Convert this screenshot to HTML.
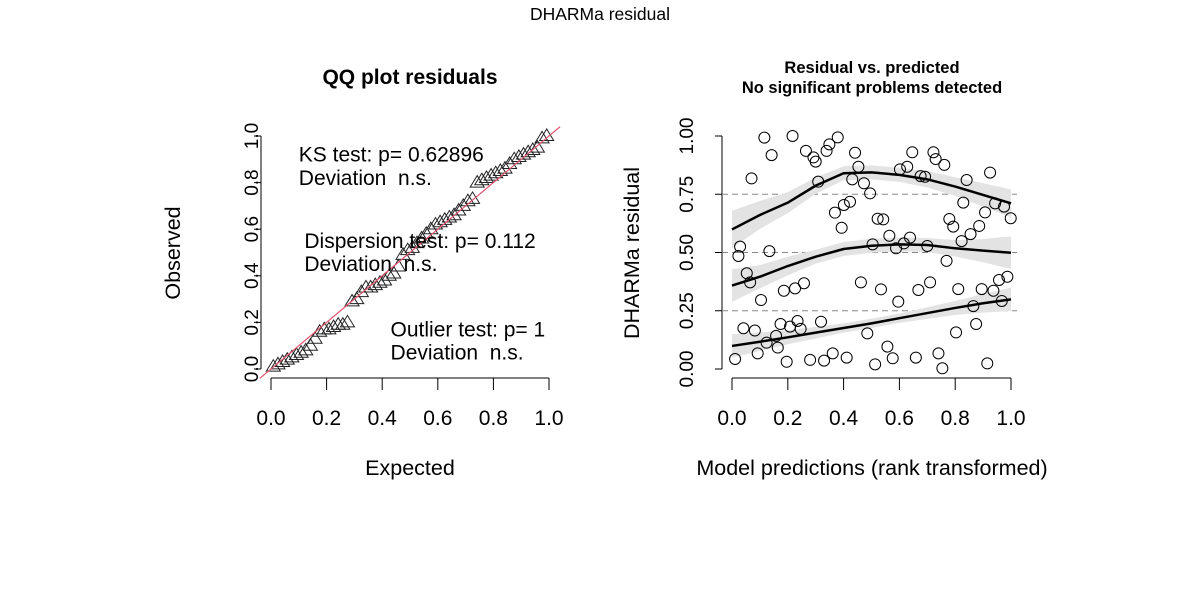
<!DOCTYPE html>
<html><head><meta charset="utf-8"><style>
html,body{margin:0;padding:0;background:#fff;}
svg{display:block;font-family:"Liberation Sans",Arial,sans-serif;}
text{white-space:pre;}
</style></head><body>
<svg id="chart" width="1200" height="593" viewBox="0 0 1200 593" xmlns="http://www.w3.org/2000/svg">
<rect width="1200" height="593" fill="#fff"/>
<text x="600" y="20" text-anchor="middle" font-size="17.5">DHARMa residual</text>
<g id="left">
<text x="410" y="84" text-anchor="middle" font-size="21" font-weight="bold">QQ plot residuals</text>
<text transform="translate(180,253) rotate(-90)" text-anchor="middle" font-size="21.5">Observed</text>
<text x="410" y="475" text-anchor="middle" font-size="21.5">Expected</text>
</g>
<g id="right">
<text x="872" y="73" text-anchor="middle" font-size="16.5" font-weight="bold">Residual vs. predicted</text>
<text x="872" y="93" text-anchor="middle" font-size="16.5" font-weight="bold">No significant problems detected</text>
<text transform="translate(639,253) rotate(-90)" text-anchor="middle" font-size="21.5">DHARMa residual</text>
<text x="872" y="475" text-anchor="middle" font-size="21.5">Model predictions (rank transformed)</text>
</g>
</svg>
<script>
// QQ data
const qqObserved=[.01,.02,.03,.04,.05,.06,.07,.08,.10,.13,.16,.17,.17,.18,.19,.19,.20,.29,.30,.33,.35,.35,.36,.37,.38,.40,.41,.44,.49,.51,.52,.54,.56,.58,.60,.62,.63,.64,.65,.66,.68,.70,.72,.73,.80,.81,.82,.83,.84,.85,.86,.88,.90,.91,.92,.93,.94,.95,.99,1.0];
const qqTicks=["0.0","0.2","0.4","0.6","0.8","1.0"];
const qqTickVals=[0,0.2,0.4,0.6,0.8,1];
const qqTexts=[["KS test: p= 0.62896",0.1,0.92],["Deviation  n.s.",0.1,0.82],["Dispersion test: p= 0.112",0.12,0.55],["Deviation  n.s.",0.12,0.45],["Outlier test: p= 1",0.43,0.17],["Deviation  n.s.",0.43,0.07]];
// Residual vs predicted data
const predX=[.116,.217,.142,.265,.292,.300,.339,.349,.379,.441,.070,.453,.309,.431,.473,.495,.369,.401,.423,.393,.522,.542,.602,.628,.646,.676,.692,.722,.730,.761,.841,.925,.829,.779,.793,.943,.975,.999,.907,.886,.855,.823,.029,.023,.134,.504,.564,.588,.616,.638,.700,.769,.053,.065,.104,.186,.226,.258,.462,.534,.596,.668,.710,.811,.895,.937,.957,.987,.967,.865,.041,.082,.174,.208,.235,.246,.319,.158,.124,.164,.092,.011,.196,.280,.330,.361,.411,.485,.513,.557,.576,.659,.740,.754,.803,.875,.915];
const residY=[.993,1.0,.918,.936,.908,.890,.936,.964,.994,.928,.818,.868,.804,.814,.797,.754,.671,.704,.718,.606,.645,.642,.857,.868,.930,.828,.825,.930,.901,.876,.811,.843,.714,.644,.611,.711,.697,.647,.672,.614,.579,.549,.525,.485,.506,.535,.572,.518,.539,.564,.528,.464,.411,.372,.296,.336,.346,.368,.372,.342,.289,.339,.372,.343,.343,.336,.382,.396,.292,.270,.175,.165,.193,.182,.206,.172,.203,.142,.113,.092,.067,.043,.031,.039,.036,.067,.049,.153,.020,.096,.046,.049,.067,.003,.157,.193,.024];
const qGrid=[0,.1,.2,.3,.4,.5,.6,.7,.8,.9,1];
const qUpper=[.599,.661,.714,.787,.84,.844,.833,.814,.783,.747,.711];
const qMiddle=[.358,.396,.442,.482,.515,.529,.535,.532,.518,.508,.499];
const qLower=[.099,.117,.136,.156,.176,.196,.218,.24,.262,.282,.299];
const bandUpper=[.08,.06,.045,.035,.03,.03,.03,.035,.04,.05,.06];
const bandMiddle=[.07,.05,.04,.03,.03,.03,.03,.03,.035,.05,.07];
const bandLower=[.05,.04,.03,.025,.02,.02,.02,.025,.03,.04,.05];
const rvTicks=["0.00","0.25","0.50","0.75","1.00"];
const rvTickVals=[0,.25,.5,.75,1];
const xTicks=["0.0","0.2","0.4","0.6","0.8","1.0"];
const xTickVals=[0,.2,.4,.6,.8,1];

const NS="http://www.w3.org/2000/svg";
function mk(tag,parent,attrs){const e=document.createElementNS(NS,tag);for(const k in attrs)e.setAttribute(k,attrs[k]);parent.appendChild(e);return e;}
const L=document.getElementById('left'),R=document.getElementById('right');
const lx=v=>271+v*278, ly=v=>369-v*233;
const rx=v=>732+v*279, ry=v=>369-v*233;

// left axes
let a=mk('path',L,{d:`M261,${ly(0)}V${ly(1)}M271,378H549`,stroke:'#000','stroke-width':1,fill:'none'});


qqTickVals.forEach((v,i)=>{
 let t=mk('line',L,{x1:254,x2:261,y1:ly(v),y2:ly(v),stroke:'#000'});
 
 
 let l=mk('text',L,{transform:`translate(258,${ly(v)}) rotate(-90)`,'text-anchor':'middle','font-size':19});
 l.textContent=qqTicks[i];
 
 
 let t2=mk('line',L,{x1:lx(v),x2:lx(v),y1:378,y2:390,stroke:'#000'});
 
 
 let l2=mk('text',L,{x:lx(v),y:425,'text-anchor':'middle','font-size':21});
 l2.textContent=qqTicks[i];
 
 
});
qqObserved.forEach((o,k)=>{
 const e=(k+0.5)/qqObserved.length;const x=lx(e),y=ly(o);
 let p=mk('path',L,{d:`M${x-7},${y+4.5}L${x+7},${y+4.5}L${x},${y-7}Z`,fill:'none',stroke:'#222','stroke-width':1});
 
 
});
let dl=mk('line',L,{x1:lx(-0.04),y1:ly(-0.04),x2:lx(1.04),y2:ly(1.04),stroke:'#e0536e','stroke-width':1.2});


qqTexts.forEach(t=>{
 let e=mk('text',L,{x:lx(t[1]),y:ly(t[2])+7,'font-size':21});
 e.textContent=t[0];
 
 
});

// right axes
let b=mk('path',R,{d:`M722,${ry(0)}V${ry(1)}M${rx(0)},378H${rx(1)}`,stroke:'#000',fill:'none'});


rvTickVals.forEach((v,i)=>{
 let t=mk('line',R,{x1:715,x2:722,y1:ry(v),y2:ry(v),stroke:'#000'});
 
 
 let l=mk('text',R,{transform:`translate(693,${ry(v)}) rotate(-90)`,'text-anchor':'middle','font-size':19});
 l.textContent=rvTicks[i];
 
 
 if(v>0&&v<1){let d=mk('line',R,{x1:722,x2:1017,y1:ry(v),y2:ry(v),stroke:'#888','stroke-dasharray':'6,4'});
 
 }
});
xTickVals.forEach((v,i)=>{
 let t=mk('line',R,{x1:rx(v),x2:rx(v),y1:378,y2:390,stroke:'#000'});
 
 
 let l=mk('text',R,{x:rx(v),y:425,'text-anchor':'middle','font-size':21});
 l.textContent=xTicks[i];
 
 
});
[[qUpper,bandUpper,'upper'],[qMiddle,bandMiddle,'median'],[qLower,bandLower,'lower']].forEach(([q,bd,nm])=>{
 let top=qGrid.map((g,i)=>`${rx(g)},${ry(q[i]+bd[i])}`);
 let bot=qGrid.map((g,i)=>`${rx(g)},${ry(q[i]-bd[i])}`).reverse();
 let p=mk('polygon',R,{points:top.concat(bot).join(' '),fill:'#e3e3e3'});
 
 
});
predX.forEach((x,i)=>{
 let c=mk('circle',R,{cx:rx(x),cy:ry(residY[i]),r:5.5,fill:'none',stroke:'#000','stroke-width':1});
 
 
});
[[qUpper,'upper'],[qMiddle,'median'],[qLower,'lower']].forEach(([q,nm])=>{
 let p=mk('polyline',R,{points:qGrid.map((g,i)=>`${rx(g)},${ry(q[i])}`).join(' '),fill:'none',stroke:'#000','stroke-width':2.5,'stroke-linejoin':'round'});
 
 
});
</script>
</body></html>
